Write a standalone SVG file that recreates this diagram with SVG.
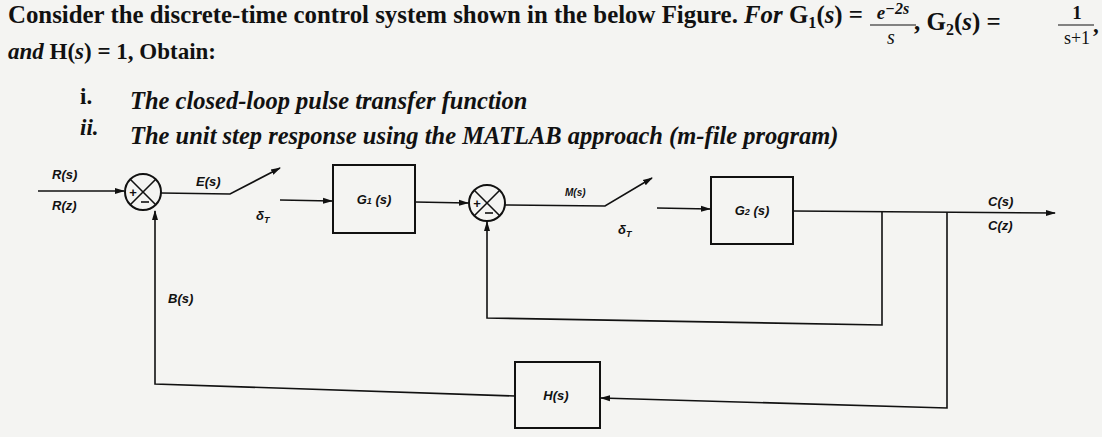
<svg xmlns="http://www.w3.org/2000/svg" width="1102" height="437" viewBox="0 0 1102 437">
<style>
.t{font-family:"Liberation Serif",serif;font-size:23px;fill:#111}
.b{font-weight:bold}
.i{font-style:italic}
.l{font-family:"Liberation Sans",sans-serif;font-size:13px;font-style:italic;font-weight:bold;fill:#111}
.w{fill:none;stroke:#111;stroke-width:1.6}
.bx{fill:none;stroke:#111;stroke-width:2}
</style>
<defs><marker id="a" markerWidth="10" markerHeight="8" refX="9" refY="4" orient="auto" markerUnits="userSpaceOnUse"><path d="M0,1 L10,4 L0,7 Z" fill="#111"/></marker></defs>
<rect width="1102" height="437" fill="#f4f4f2"/>
<g id="title">
<text class="t b" x="8" y="23" style="font-size:24.6px" textLength="855" lengthAdjust="spacingAndGlyphs">Consider the discrete-time control system shown in the below Figure. <tspan class="i">For</tspan> G<tspan style="font-size:16px" dy="5">1</tspan><tspan dy="-5">(</tspan><tspan class="i">s</tspan>) =</text>
<text class="t i b" x="893" y="19" style="font-size:19px" text-anchor="middle">e<tspan dy="-5" style="font-size:16px">−2s</tspan></text>
<line x1="870" y1="25" x2="916" y2="25" stroke="#111" stroke-width="1.2"/>
<text class="t i" x="891" y="44" style="font-size:20px" text-anchor="middle">s</text>
<text class="t b" x="914" y="30" style="font-size:25px">, G<tspan style="font-size:16px" dy="5">2</tspan><tspan dy="-5">(</tspan><tspan class="i">s</tspan>) =</text>
<text class="t b" x="1077" y="19" style="font-size:19px" text-anchor="middle">1</text>
<line x1="1058" y1="25" x2="1094" y2="25" stroke="#111" stroke-width="1.2"/>
<text class="t" x="1077" y="44" style="font-size:18px" text-anchor="middle">s+1</text>
<text class="t b" x="1093" y="32">,</text>
<text class="t b" x="8" y="59"><tspan class="i">and</tspan> H(<tspan class="i">s</tspan>) = 1, Obtain:</text>
<text class="t b" x="80" y="104">i.</text>
<text class="t b i" x="130" y="109" style="font-size:24.5px">The closed-loop pulse transfer function</text>
<text class="t b i" x="80" y="135">ii.</text>
<text class="t b i" x="130" y="144" style="font-size:24.5px">The unit step response using the MATLAB approach (m-file program)</text>
</g>
<g id="sum1"><circle class="bx" cx="143" cy="192" r="18"/><line class="w" x1="130" y1="179" x2="156" y2="205"/><line class="w" x1="156" y1="179" x2="130" y2="205"/><text class="l" x="129" y="197">+</text><line class="w" x1="141" y1="202" x2="149" y2="202"/></g>
<g id="G1"><rect class="bx" x="333" y="165" width="82" height="68"/><text class="l" x="374" y="204" text-anchor="middle">G<tspan style="font-size:9px">1</tspan> (s)</text></g>
<g id="sum2"><circle class="bx" cx="487" cy="203" r="18"/><line class="w" x1="474" y1="190" x2="500" y2="216"/><line class="w" x1="500" y1="190" x2="474" y2="216"/><text class="l" x="473" y="208">+</text><line class="w" x1="485" y1="213" x2="493" y2="213"/></g>
<g id="G2"><rect class="bx" x="711" y="177" width="82" height="67"/><text class="l" x="752" y="215" text-anchor="middle">G<tspan style="font-size:9px">2</tspan> (s)</text></g>
<g id="H"><rect class="bx" x="515" y="362" width="85" height="66"/><text class="l" x="556" y="400" text-anchor="middle">H(s)</text></g>
<g id="connectors">
<line class="w" x1="38" y1="191" x2="124" y2="191" marker-end="url(#a)"/>
<polyline class="w" points="161,193 230,194 280,168" marker-end="url(#a)"/>
<line class="w" x1="280" y1="200" x2="332" y2="201" marker-end="url(#a)"/>
<line class="w" x1="415" y1="202" x2="468" y2="203" marker-end="url(#a)"/>
<polyline class="w" points="505,205 605,206 652,178" marker-end="url(#a)"/>
<line class="w" x1="657" y1="208" x2="710" y2="209" marker-end="url(#a)"/>
<line class="w" x1="793" y1="211" x2="1055" y2="213" marker-end="url(#a)"/>
<polyline class="w" points="882,212 882,325 487,318 487,222" marker-end="url(#a)"/>
<polyline class="w" points="947,212 947,408 601,398" marker-end="url(#a)"/>
<polyline class="w" points="515,396 155,384 155,211" marker-end="url(#a)"/>
</g>
<g id="labels">
<text class="l" x="52" y="179">R(s)</text><text class="l" x="52" y="210">R(z)</text>
<text class="l" x="196" y="186">E(s)</text>
<text class="l" x="256" y="220">δ<tspan style="font-size:9px" dy="3">T</tspan></text>
<text class="l" x="565" y="196" style="font-size:10px">M(s)</text>
<text class="l" x="618" y="234">δ<tspan style="font-size:9px" dy="3">T</tspan></text>
<text class="l" x="988" y="206">C(s)</text><text class="l" x="988" y="230">C(z)</text>
<text class="l" x="168" y="303">B(s)</text>
</g>
</svg>
